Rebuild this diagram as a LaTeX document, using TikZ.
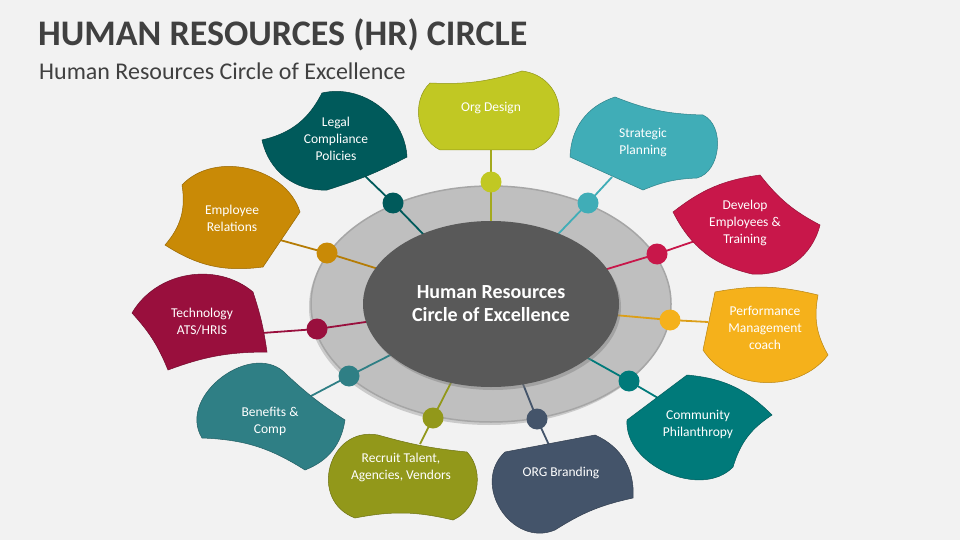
\documentclass[tikz,border=0pt]{standalone}
\usepackage{fontspec}
\setmainfont{Carlito}
\usetikzlibrary{shapes.geometric,shadows}
\definecolor{bgc}{HTML}{F2F2F2}
\definecolor{ctitle}{HTML}{404040}
\definecolor{cring}{HTML}{BFBFBF}
\definecolor{cringb}{HTML}{A6A6A6}
\definecolor{chub}{HTML}{595959}
\definecolor{clegal}{HTML}{005A5B}
\definecolor{corg}{HTML}{C1C823}
\definecolor{cstrat}{HTML}{40ADB7}
\definecolor{cdev}{HTML}{C8174A}
\definecolor{cperf}{HTML}{F5B11B}
\definecolor{ccomm}{HTML}{007A7A}
\definecolor{cbrand}{HTML}{44546A}
\definecolor{crecr}{HTML}{92981A}
\definecolor{cbene}{HTML}{2F7F85}
\definecolor{ctech}{HTML}{990F3D}
\definecolor{cemp}{HTML}{C98A06}
\begin{document}
\begin{tikzpicture}[x=1pt,y=-1pt,
  cvx/.style={bend left=#1},
  ccv/.style={bend right=#1},
  hrlbl/.style={text=white, align=center, inner sep=0pt, font=\fontsize{13.5}{17}\selectfont},
  hrdot/.style={circle, minimum size=21pt, inner sep=0pt, fill=#1},
  hrline/.style={draw=#1, line width=1.8pt},
  hrblob/.style={fill=#1, draw=#1!75!black, line width=0.5pt},
]
\useasboundingbox (0,0) rectangle (960,540);
\fill[bgc] (0,0) rectangle (960,540);

% titles
\node[anchor=base west, inner sep=0pt, text=ctitle, font=\bfseries\fontsize{36}{40}\selectfont] (title) at (38,46) {HUMAN RESOURCES (HR) CIRCLE};
\node[anchor=base west, inner sep=0pt, text=ctitle, font=\fontsize{24}{28}\selectfont] (subtitle) at (39,80) {Human Resources Circle of Excellence};

% outer ring
\node[ellipse, minimum width=360pt, minimum height=236pt, fill=cring, draw=cringb, line width=1.5pt,
  drop shadow={shadow xshift=-2pt, shadow yshift=-3pt, opacity=0.35}] (ring) at (491,304) {};

% coordinates
\coordinate (hubc) at (491,304);
\coordinate (p1) at (393,203);  \coordinate (a1) at (365,176);
\coordinate (p2) at (491,182);  \coordinate (a2) at (491,148);
\coordinate (p3) at (588,203);  \coordinate (a3) at (612,177);
\coordinate (p4) at (657,254);  \coordinate (a4) at (695,241);
\coordinate (p5) at (670,320);  \coordinate (a5) at (708,322);
\coordinate (p6) at (629,381);  \coordinate (a6) at (658,398);
\coordinate (p7) at (537,419);  \coordinate (a7) at (549,445);
\coordinate (p8) at (433,418);  \coordinate (a8) at (420,444);
\coordinate (p9) at (349,376);  \coordinate (a9) at (311,396);
\coordinate (p10) at (317,329); \coordinate (a10) at (262,333);
\coordinate (p11) at (327,253); \coordinate (a11) at (280,240);

% connectors
\draw[hrline=clegal] (a1) -- (p1) -- (hubc);
\draw[hrline=corg!85!black] (a2) -- (p2) -- (hubc);
\draw[hrline=cstrat] (a3) -- (p3) -- (hubc);
\draw[hrline=cdev] (a4) -- (p4) -- (hubc);
\draw[hrline=cperf!90!black] (a5) -- (p5) -- (hubc);
\draw[hrline=ccomm] (a6) -- (p6) -- (hubc);
\draw[hrline=cbrand] (a7) -- (p7) -- (hubc);
\draw[hrline=crecr] (a8) -- (p8) -- (hubc);
\draw[hrline=cbene] (a9) -- (p9) -- (hubc);
\draw[hrline=ctech] (a10) -- (p10) -- (hubc);
\draw[hrline=cemp!90!black] (a11) -- (p11) -- (hubc);

% hub
\node[ellipse, minimum width=256pt, minimum height=166pt, inner sep=0pt, fill=chub,
  drop shadow={shadow xshift=2pt, shadow yshift=-3pt, opacity=0.45},
  text=white, align=center, font=\bfseries\fontsize{20}{23}\selectfont] (hub) at (hubc)
  {Human Resources\\Circle of Excellence};

% dots
\node[hrdot=clegal] (d1) at (p1) {};
\node[hrdot=corg] (d2) at (p2) {};
\node[hrdot=cstrat] (d3) at (p3) {};
\node[hrdot=cdev] (d4) at (p4) {};
\node[hrdot=cperf] (d5) at (p5) {};
\node[hrdot=ccomm] (d6) at (p6) {};
\node[hrdot=cbrand] (d7) at (p7) {};
\node[hrdot=crecr] (d8) at (p8) {};
\node[hrdot=cbene] (d9) at (p9) {};
\node[hrdot=ctech] (d10) at (p10) {};
\node[hrdot=cemp] (d11) at (p11) {};

% blobs
\path[hrblob=clegal] (322,93) to[cvx=50] (407,157) to[cvx=5] (327,190) to[cvx=40] (262,140) to[ccv=25] cycle;
\path[hrblob=corg] (430,83) to[ccv=10] (522,71) to[cvx=75, looseness=1.4] (533,150) -- (440,150) to[cvx=55] cycle;
\path[hrblob=cstrat] (615,97) to[ccv=10] (703,115) to[cvx=70] (697,178) to[ccv=10] (643,190) -- (570,157) to[cvx=35] cycle;
\path[hrblob=cdev] (760,175) to[ccv=12] (820,225) to[cvx=40] (752,274) to[cvx=25] (673,212) to[cvx=15] cycle;
\path[hrblob=cperf] (715,292) to[cvx=12] (818,295) to[ccv=20] (828,355) to[cvx=55] (703,350) -- cycle;
\path[hrblob=ccomm] (687,375) to[cvx=20] (772,415) to[ccv=20] (733,467) to[cvx=70] (627,420) -- cycle;
\path[hrblob=cbrand] (505,452) -- (595,435) to[cvx=35] (633,498) to[ccv=10] (555,530) to[cvx=80, looseness=1.3] cycle;
\path[hrblob=crecr] (378,435) to[ccv=5] (467,452) to[cvx=55] (453,520) to[ccv=12] (355,518) to[cvx=85, looseness=1.5] cycle;
\path[hrblob=cbene] (287,375) to[ccv=5] (345,420) to[cvx=30] (305,470) to[ccv=15] (202,438) to[cvx=85, looseness=1.2] cycle;
\path[hrblob=ctech] (132,313) to[cvx=50] (253,292) to[cvx=5] (267,352) to[ccv=10] (168,370) to[ccv=10] cycle;
\path[hrblob=cemp] (182,185) to[cvx=60] (300,212) -- (263,267) to[cvx=20] (165,245) to[ccv=25] cycle;

% labels
\node[hrlbl] (t1) at (336,139) {Legal\\Compliance\\Policies};
\node[hrlbl] (t2) at (491,108) {Org Design};
\node[hrlbl] (t3) at (643,143) {Strategic\\Planning};
\node[hrlbl] (t4) at (745,223) {Develop\\Employees \&\\Training};
\node[hrlbl] (t5) at (765,328) {Performance\\Management\\coach};
\node[hrlbl] (t6) at (698,424) {Community\\Philanthropy};
\node[hrlbl] (t7) at (561,473) {ORG Branding};
\node[hrlbl] (t8) at (401,467) {Recruit Talent,\\Agencies, Vendors};
\node[hrlbl] (t9) at (270,421) {Benefits \&\\Comp};
\node[hrlbl] (t10) at (202,322) {Technology\\ATS/HRIS};
\node[hrlbl] (t11) at (232,218) {Employee\\Relations};
\end{tikzpicture}
\end{document}
